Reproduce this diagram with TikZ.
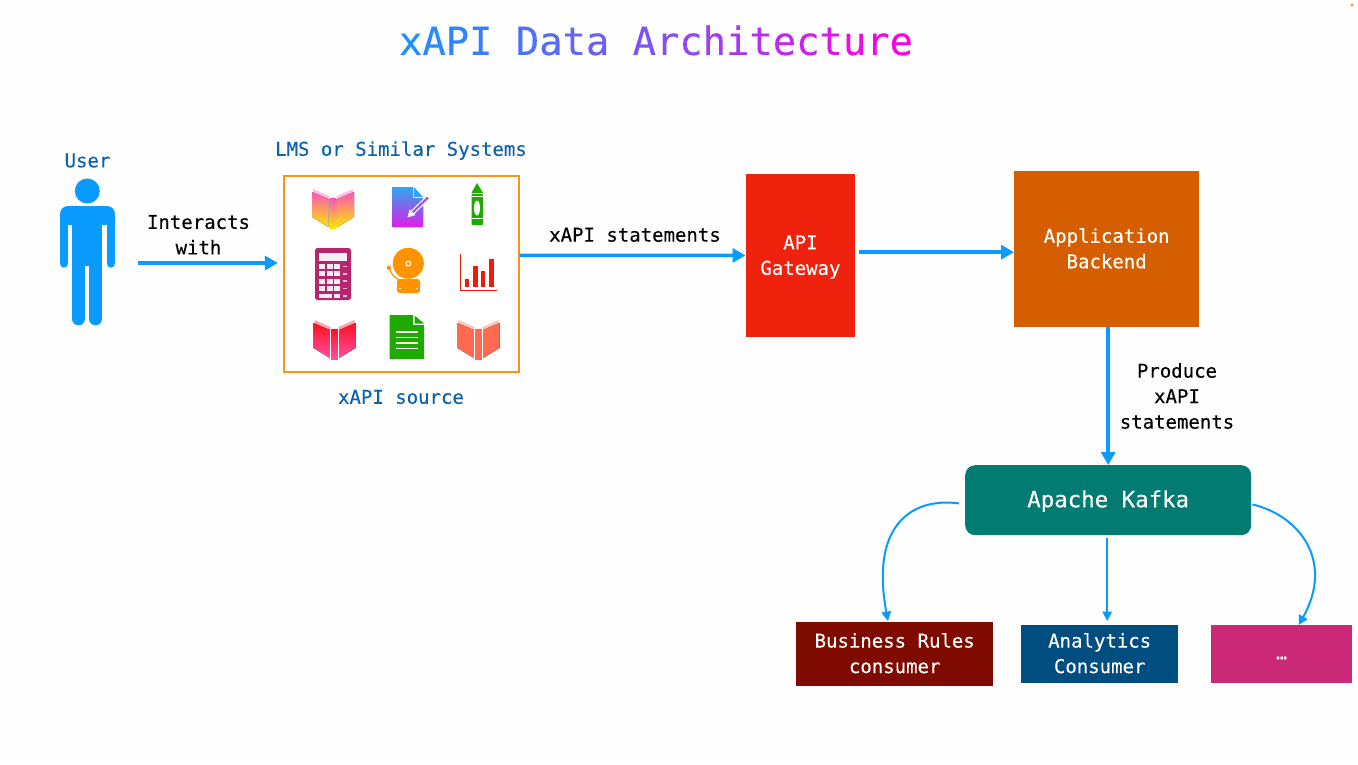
\documentclass[tikz,border=0pt]{standalone}
\usepackage{fontspec}
\setmainfont{DejaVu Sans Mono}[FakeBold=0.15]
\usetikzlibrary{arrows.meta}
\definecolor{flowblue}{HTML}{0A9BFF}
\definecolor{labelblue}{HTML}{0B62AE}
\definecolor{srcorange}{HTML}{F7931E}
\definecolor{tStart}{HTML}{1E90FF}
\definecolor{tEnd}{HTML}{FF00E6}
\definecolor{gwred}{HTML}{EF230D}
\definecolor{backorange}{HTML}{D55E00}
\definecolor{kafkateal}{HTML}{027B72}
\definecolor{bizmaroon}{HTML}{7E0A00}
\definecolor{ananavy}{HTML}{004D80}
\definecolor{moremag}{HTML}{CB2977}
\definecolor{calc}{HTML}{B8246E}
\definecolor{bellc}{HTML}{FF9400}
\definecolor{chartc}{HTML}{EE1C0B}
\definecolor{docg}{HTML}{1FAA00}
\definecolor{bookApink}{HTML}{FF55B8}
\definecolor{bookAyel}{HTML}{FFE600}
\definecolor{bookBred}{HTML}{FF1020}
\definecolor{bookBpink}{HTML}{FF50A0}
\definecolor{bookCcor}{HTML}{FF6A50}
\definecolor{penT}{HTML}{2CA8F0}
\definecolor{penB}{HTML}{E01CE8}
\definecolor{pageBg}{HTML}{FEFEFE}
\newcommand{\gl}[2]{\textcolor{tEnd!#1!tStart}{#2}}
\newcommand{\fpx}[1]{\fontsize{#1pt}{25.5pt}\selectfont}
% strut whose top is raised, so that the text sits lower in its box
\newcommand{\tstrut}[1]{\rule{0pt}{\dimexpr0.7\baselineskip+#1pt\relax}}
% book icon: centre x, centre y, top colour, bottom colour
\newcommand{\bookicon}[4]{%
\begin{scope}[shift={(#1,#2)}]
  \fill[#3!40!white] (-20,-19) -- (-4,-12) -- (-4,-9) -- (-20,-16) -- cycle;
  \fill[#3!40!white] (20,-19) -- (4,-12) -- (4,-9) -- (20,-16) -- cycle;
  \fill[top color=#3,bottom color=#4] (-21,-16) -- (-4.6,-9) -- (-4.6,19) -- (-21,9) -- cycle;
  \fill[top color=#3,bottom color=#4] (21,-16) -- (4.6,-9) -- (4.6,19) -- (21,9) -- cycle;
  \fill[top color=#3,bottom color=#4] (-3.4,-9.5) rectangle (3.4,20);
\end{scope}}
\begin{document}
\begin{tikzpicture}[x=1pt,y=-1pt,
  flow/.style={draw=flowblue,line width=3.5pt,-{Triangle[length=13pt,width=14pt]}},
  thinflow/.style={draw=flowblue,line width=2pt,-{Triangle[length=9.5pt,width=9.5pt]}},
  bluelabel/.style={text=labelblue,font=\fpx{19},inner sep=0pt},
  darklabel/.style={text=black,font=\fpx{19},align=center,inner sep=0pt},
  blockbox/.style={text=white,font=\fpx{19},align=center,inner sep=0pt,anchor=north west},
]
\useasboundingbox (0,0) rectangle (1358,764);
\fill[pageBg] (0,0) rectangle (1358,764);

% title
\node[inner sep=0pt,font=\fpx{38.8}] (title) at (656,40.5) {\gl{0}{x}\gl{4}{A}\gl{8}{P}\gl{12}{I}\ \gl{20}{D}\gl{25}{a}\gl{30}{t}\gl{34}{a}\ \gl{42}{A}\gl{47}{r}\gl{52}{c}\gl{57}{h}\gl{62}{i}\gl{67}{t}\gl{72}{e}\gl{78}{c}\gl{84}{t}\gl{90}{u}\gl{96}{r}\gl{100}{e}};

% user figure
\node[minimum width=55pt,minimum height=146pt,inner sep=0pt] (user) at (87.5,252) {};
\fill[flowblue] (87.3,191) circle (12.5);
\fill[flowblue,rounded corners=8pt] (60,206) rectangle (115,228);
\fill[flowblue] (72.3,215) rectangle (102,266);
\draw[flowblue,line width=8.4pt,line cap=round] (64.2,216) -- (64.2,263.5);
\draw[flowblue,line width=8.4pt,line cap=round] (110.8,216) -- (110.8,263.5);
\draw[flowblue,line width=12.7pt,line cap=round] (78.6,260) -- (78.6,319);
\draw[flowblue,line width=12.7pt,line cap=round] (95.7,260) -- (95.7,319);
\fill[pageBg] (68.4,225) rectangle (72.3,270);
\fill[pageBg] (102.2,225) rectangle (106.6,270);
\node[bluelabel] (userlab) at (87.5,160.5) {User};

% source box
\node[draw=srcorange,line width=1.6pt,fill=white,minimum width=235pt,minimum height=196pt,inner sep=0pt] (src) at (401.2,274) {};
\node[bluelabel] (lmslab) at (401,150.5) {LMS or Similar Systems};
\node[bluelabel] (srclab) at (401,397) {xAPI source};

% icons
\bookicon{333}{208}{bookApink}{bookAyel}
\bookicon{334.5}{339}{bookBred}{bookBpink}
\bookicon{478.5}{339}{bookCcor}{bookCcor}

% pen document
\fill[top color=penT,bottom color=penB] (392.5,187) -- (413,187) -- (413,198) -- (423,198) -- (423,227) -- (392.5,227) -- cycle;
\fill[penT] (414,187) -- (423,197) -- (414,197) -- cycle;
\draw[white,line width=4.6pt] (412.5,212.5) -- (426.5,199);
\draw[penT!40!penB,line width=2.2pt] (412.5,212.5) -- (428,197.5);
\fill[white] (407.5,217.5) -- (409.5,209.5) -- (415.5,215) -- cycle;

% crayon
\fill[docg] (477,183) -- (482.5,192) -- (483,193) -- (471.5,193) -- (472,192) -- cycle;
\fill[docg,rounded corners=1pt] (471.5,194) rectangle (483,225);
\fill[white] (477,208) ellipse (3pt and 7.5pt);
\draw[white,line width=.8pt] (471.5,196) -- (483,196) (471.5,218.5) -- (483,218.5);

% calculator
\fill[calc,rounded corners=2.5pt] (315,248) rectangle (351,300);
\fill[white!92!calc] (319,253) rectangle (347,261);
\foreach \r in {0,1,2,3}{
  \foreach \c in {0,1,2}{
    \fill[white!92!calc] ({319+\c*7.5},{264+\r*7.4}) rectangle ++(6,4.8);
  }
  \fill[white!70!calc] (342.5,{265.5+\r*7.4}) rectangle ++(4.5,1.6);
}
\fill[white!92!calc] (319,293.5) rectangle ++(13,4);
\fill[white!92!calc] (334,293.5) rectangle ++(6,4);
\fill[white!70!calc] (342.5,294.5) rectangle ++(4.5,2);

% bell
\fill[bellc] (408.3,263.3) circle (15.5);
\draw[white,line width=1pt] (408.3,263.6) circle (2.4);
\draw[bellc,line width=1.2pt] (389.5,268) .. controls (391,275) and (396,279) .. (400,280);
\fill[bellc] (388.8,267.7) circle (2.2);
\fill[bellc,rounded corners=2.5pt] (397,279) rectangle (420,293);
\fill[white] (400,288.5) circle (.9) (417,288.5) circle (.9);

% chart
\draw[chartc,line width=1.2pt] (460.5,254) -- (460.5,290.5) -- (497,290.5);
\fill[chartc] (465,279) rectangle (469,286.5);
\fill[chartc] (473,266) rectangle (477.5,286.5);
\fill[chartc] (481,271) rectangle (485,286.5);
\fill[chartc] (489,259) rectangle (493.5,286.5);

% green document
\fill[docg] (389.5,315) -- (413,315) -- (413,325) -- (424,325) -- (424,359) -- (389.5,359) -- cycle;
\fill[docg] (414.5,315.5) -- (424,323.5) -- (414.5,323.5) -- cycle;
\foreach \ly in {332,337.5,343,348.5}{\draw[white,line width=1.5pt] (396,\ly) -- (418,\ly);}

% blocks
\node[blockbox,fill=gwred,minimum width=109.5pt,minimum height=162.5pt] (gw) at (745.5,174) {\tstrut{3}\strut API\\\strut Gateway};
\node[blockbox,fill=backorange,minimum width=185pt,minimum height=156pt] (backend) at (1014,170.7) {\tstrut{3}\strut Application\\\strut Backend};
\node[blockbox,fill=kafkateal,minimum width=286pt,minimum height=70pt,rounded corners=10pt,font=\fpx{22.4}] (kafka) at (965,465) {\tstrut{4}\strut Apache Kafka};
\node[blockbox,fill=bizmaroon,minimum width=197pt,minimum height=64pt] (biz) at (796,622) {\tstrut{2}\strut Business Rules\\\strut consumer};
\node[blockbox,fill=ananavy,minimum width=157pt,minimum height=58pt] (ana) at (1021,625) {\tstrut{2}\strut Analytics\\\strut Consumer};
\node[blockbox,fill=moremag,minimum width=141pt,minimum height=58pt,font=\fpx{18}] (more) at (1211,625) {\strut …};

% connectors
\draw[flow,shorten <=23pt,shorten >=5pt] ([yshift=-11pt]user.east) -- ([yshift=11pt]src.west);
\draw[flow] ([yshift=18.75pt]src.east) -- (gw.west);
\draw[flow,shorten <=4pt] ([yshift=3.25pt]gw.east) -- ([yshift=-3.3pt]backend.west);
\draw[flow] ([xshift=1.5pt]backend.south) -- (kafka.north);
\draw[thinflow,shorten <=6pt,shorten >=1pt] ([yshift=-4pt]kafka.west) .. controls (912,497) and (870,525) .. ([xshift=-6.5pt]biz.north);
\draw[thinflow,shorten <=3pt,shorten >=4pt] ([xshift=-1pt]kafka.south) -- ([xshift=7.5pt]ana.north);
\draw[thinflow,shorten <=1pt] ([yshift=-4pt]kafka.east) .. controls (1298,515) and (1335,560) .. ([xshift=17pt]more.north);

% connector labels
\node[darklabel] (lab1) at (198.5,236.5) {\strut Interacts\\\strut with};
\node[darklabel] (lab2) at (635,236.5) {\strut xAPI statements};
\node[darklabel] (lab3) at (1177,398) {\strut Produce\\\strut xAPI\\\strut statements};
\fill[srcorange] (1352,5) circle (1.6);
\end{tikzpicture}
\end{document}
